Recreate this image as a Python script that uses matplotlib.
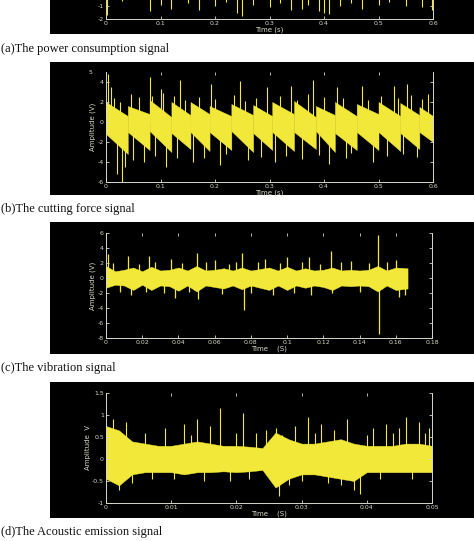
import matplotlib.pyplot as plt
import numpy as np

W, H = 474, 541
YEL = '#f2e83a'
AX = '#d8d8c8'

# (a) power consumption: spikes hanging down from the dense band above the view
a_spike_t = [0.002, 0.03, 0.08, 0.1, 0.12, 0.15, 0.17, 0.2, 0.22, 0.24, 0.25, 0.27, 0.3,
             0.32, 0.34, 0.36, 0.37, 0.39, 0.4, 0.41, 0.43, 0.45, 0.47, 0.5, 0.52, 0.55, 0.58, 0.598]
a_spike_v = [-1.7, -0.6, -1.4, -0.9, -1.2, -0.8, -1.3, -1.0, -0.7, -1.5, -1.8, -0.9, -1.1,
             -0.8, -1.3, -1.2, -0.9, -1.4, -1.5, -1.6, -1.0, -0.8, -1.2, -0.9, -0.7, -1.0, -1.1, -1.3]

# (b) cutting force: sawtooth cycles (start time, upper start/end, lower start/end)
b_cyc_t = [0.0, 0.04, 0.08, 0.12, 0.155, 0.19, 0.23, 0.27, 0.305, 0.345, 0.385, 0.42,
           0.46, 0.50, 0.54, 0.575, 0.6]
b_up0 = [2.0, 1.6, 2.2, 2.0, 2.0, 1.6, 1.8, 1.7, 2.0, 2.1, 1.6, 2.0, 1.8, 2.0, 1.9, 1.5]
b_up1 = [0.6, 0.8, 0.5, 0.7, 0.8, 0.6, 0.7, 0.6, 0.8, 0.5, 0.7, 0.6, 0.8, 0.6, 0.7, 0.6]
b_lo0 = [-1.2, -1.0, -0.9, -1.1, -1.0, -1.0, -0.9, -1.1, -1.0, -1.0, -0.9, -1.1, -1.0, -1.0, -1.1, -1.0]
b_lo1 = [-3.2, -2.8, -3.0, -2.7, -2.9, -2.8, -3.0, -2.8, -2.9, -2.7, -3.0, -2.8, -2.8, -2.9, -2.7, -2.0]
b_spike_t = [0.004, 0.01, 0.015, 0.02, 0.025, 0.03, 0.035, 0.045, 0.05, 0.06, 0.07, 0.08,
             0.085, 0.09, 0.1, 0.105, 0.11, 0.125, 0.13, 0.136, 0.145, 0.16, 0.17, 0.18,
             0.192, 0.2, 0.21, 0.22, 0.235, 0.245, 0.255, 0.26, 0.275, 0.285, 0.295, 0.31,
             0.32, 0.33, 0.34, 0.35, 0.36, 0.37, 0.38, 0.39, 0.4, 0.41, 0.424, 0.435, 0.44,
             0.45, 0.47, 0.48, 0.49, 0.505, 0.515, 0.528, 0.535, 0.545, 0.553, 0.56, 0.57,
             0.58, 0.59]
b_spike_v = [4.8, 3.5, 2.4, -5.2, 2.0, -6.0, -4.5, 2.8, -3.8, 2.5, -4.0, 4.5, 2.6, -3.4,
             3.3, 2.9, -4.5, 2.6, -3.6, 4.2, 2.2, -4.0, 2.5, -3.6, 3.8, 2.3, -4.3, -3.2,
             2.7, 4.1, 2.1, -3.8, 2.4, -3.5, 3.5, -4.0, 2.6, -3.4, 3.6, 2.2, -3.7, 2.8,
             4.2, -3.3, 2.5, -4.2, 3.5, 2.4, -3.6, -3.1, 3.6, 2.2, -4.0, 2.6, -3.4, 3.6,
             2.4, -3.2, 3.8, 2.7, -3.5, 2.3, 2.8]

# (c) vibration: envelope every 0.005 s up to 0.165
c_t = [0.0, 0.005, 0.01, 0.015, 0.02, 0.025, 0.03, 0.035, 0.04, 0.045, 0.05, 0.055, 0.06,
       0.065, 0.07, 0.075, 0.08, 0.085, 0.09, 0.095, 0.1, 0.105, 0.11, 0.115, 0.12, 0.125,
       0.13, 0.135, 0.14, 0.145, 0.15, 0.155, 0.16, 0.1665]
c_up = [1.6, 0.9, 1.1, 1.4, 0.9, 1.5, 1.0, 1.1, 1.4, 1.0, 1.6, 1.0, 1.1, 1.3, 1.0, 1.4,
        1.0, 1.2, 1.4, 1.0, 1.5, 1.0, 1.3, 1.0, 1.1, 1.4, 1.0, 1.1, 1.0, 1.1, 1.6, 1.0, 1.4, 1.3]
c_lo = [-1.3, -0.9, -1.0, -1.6, -0.9, -1.6, -1.0, -1.1, -1.7, -1.0, -1.8, -1.0, -1.2, -1.4,
        -1.0, -1.5, -1.0, -1.3, -1.6, -1.0, -1.6, -1.0, -1.3, -1.0, -1.2, -1.6, -1.0, -1.1,
        -1.0, -1.1, -1.8, -1.0, -1.6, -1.4]
c_spike_t = [0.001, 0.004, 0.008, 0.012, 0.014, 0.018, 0.022, 0.024, 0.027, 0.032, 0.036,
             0.038, 0.042, 0.046, 0.05, 0.051, 0.055, 0.06, 0.064, 0.068, 0.072, 0.075,
             0.076, 0.08, 0.084, 0.088, 0.092, 0.096, 0.1, 0.104, 0.108, 0.112, 0.113,
             0.118, 0.124, 0.125, 0.13, 0.135, 0.14, 0.145, 0.15, 0.1505, 0.155, 0.16,
             0.162, 0.165]
c_spike_v = [3.2, 2.0, -1.9, 2.9, -2.3, 1.9, -1.8, 3.0, 2.1, -2.0, 2.5, -2.6, 2.0, -1.9,
             3.3, -2.8, 2.2, 2.4, -2.1, 1.9, 2.1, 3.3, -4.3, -2.0, 2.2, 2.6, -2.3, 2.0, 2.8,
             -2.0, 2.2, 2.8, -2.2, 1.9, 3.6, -2.0, 2.1, 2.3, -1.9, 2.0, 5.8, -7.5, 2.2, 2.4,
             -2.5, -2.2]

# (d) acoustic emission: envelope every 0.002 s
d_t = [0.0, 0.002, 0.004, 0.006, 0.008, 0.01, 0.012, 0.014, 0.016, 0.018, 0.02, 0.022,
       0.024, 0.026, 0.028, 0.03, 0.032, 0.034, 0.036, 0.038, 0.04, 0.042, 0.044, 0.046,
       0.048, 0.05]
d_up = [0.75, 0.65, 0.4, 0.35, 0.3, 0.3, 0.35, 0.4, 0.35, 0.3, 0.3, 0.28, 0.25, 0.6, 0.45,
        0.35, 0.35, 0.4, 0.45, 0.35, 0.3, 0.3, 0.3, 0.35, 0.35, 0.3]
d_lo = [-0.45, -0.6, -0.35, -0.3, -0.3, -0.3, -0.35, -0.3, -0.3, -0.28, -0.3, -0.28, -0.25,
        -0.65, -0.45, -0.35, -0.35, -0.4, -0.45, -0.5, -0.3, -0.3, -0.3, -0.3, -0.3, -0.3]
d_spike_t = [0.001, 0.002, 0.003, 0.004, 0.006, 0.007, 0.009, 0.0105, 0.012, 0.013, 0.014,
             0.015, 0.016, 0.0175, 0.019, 0.02, 0.021, 0.022, 0.023, 0.0245, 0.026, 0.0265,
             0.027, 0.028, 0.029, 0.03, 0.031, 0.032, 0.033, 0.034, 0.035, 0.036, 0.037,
             0.038, 0.039, 0.04, 0.041, 0.042, 0.043, 0.044, 0.045, 0.046, 0.047, 0.048,
             0.049, 0.0495]
d_spike_v = [0.9, -0.7, 0.85, -0.55, 0.6, -0.45, 0.7, -0.45, 0.8, 0.55, 0.9, -0.5, 0.75,
             1.15, -0.5, 0.6, 1.05, -0.45, 0.6, 0.65, 0.7, -0.85, 0.55, -0.6, 0.75, -0.5,
             0.95, 0.6, 0.8, -0.55, 0.65, -0.6, 0.9, -0.7, -0.8, 0.55, 0.7, -0.45, 0.8,
             0.6, 0.7, 0.95, -0.45, 0.85, 0.6, 0.7]

captions = ['(a)The power consumption signal', '(b)The cutting force signal',
            '(c)The vibration signal', '(d)The Acoustic emission signal']

fig = plt.figure(figsize=(W / 100, H / 100), dpi=100)


def px_axes(x0, y0, x1, y1, **kw):
    return fig.add_axes([x0 / W, 1 - y1 / H, (x1 - x0) / W, (y1 - y0) / H], **kw)


def black_box(y0, y1):
    bg = px_axes(50, y0, 474, y1)
    bg.set_facecolor('black')
    bg.set_xticks([]); bg.set_yticks([])
    for s in bg.spines.values():
        s.set_visible(False)


def style(ax, xlim, ylim, xt, xtl, yt, ytl, xlabel, ylabel):
    ax.set_facecolor('black')
    ax.set_xlim(xlim); ax.set_ylim(ylim)
    ax.set_xticks(xt); ax.set_xticklabels(xtl)
    ax.set_yticks(yt); ax.set_yticklabels(ytl)
    for s in ax.spines.values():
        s.set_color(AX); s.set_linewidth(0.7)
    ax.spines['top'].set_visible(False)
    ax.tick_params(colors=AX, labelsize=4.5, length=2, width=0.6, pad=1.5,
                   direction='in', top=True, right=True)
    ax.set_xlabel(xlabel, color=AX, fontsize=5, labelpad=0)
    ax.set_ylabel(ylabel, color=AX, fontsize=5, labelpad=1)


# panel a (only its lower part is in view)
black_box(0, 34)
ax = px_axes(106, -20, 433, 19)
ax.vlines(a_spike_t, a_spike_v, 1.0, color=YEL, lw=0.8)
style(ax, (0, 0.6), (-2, 1.0), np.arange(0, 0.61, 0.1),
      ['0', '0.1', '0.2', '0.3', '0.4', '0.5', '0.6'], [-2, -1], ['-2', '-1'], 'Time (s)', '')

# panel b
black_box(62, 195)
ax = px_axes(106, 72, 433, 182)
for i in range(len(b_cyc_t) - 1):
    ax.fill_between([b_cyc_t[i], b_cyc_t[i + 1]], [b_lo0[i], b_lo1[i]], [b_up0[i], b_up1[i]],
                    color=YEL, lw=0.3)
ax.vlines(b_spike_t, 0, b_spike_v, color=YEL, lw=0.8)
style(ax, (0, 0.6), (-6, 5), np.arange(0, 0.61, 0.1),
      ['0', '0.1', '0.2', '0.3', '0.4', '0.5', '0.6'], [-6, -4, -2, 0, 2, 4],
      ['-6', '-4', '-2', '0', '2', '4'], 'Time (s)', 'Amplitude (V)')
ax.text(-0.028, 5, '5', color=AX, fontsize=4.5, ha='center', va='center')

# panel c
black_box(222, 354)
ax = px_axes(106, 233, 432, 338)
ax.fill_between(c_t, c_lo, c_up, color=YEL, lw=0.3)
ax.vlines(c_spike_t, 0, c_spike_v, color=YEL, lw=0.9)
style(ax, (0, 0.18), (-8, 6), np.arange(0, 0.181, 0.02),
      ['0', '0.02', '0.04', '0.06', '0.08', '0.1', '0.12', '0.14', '0.16', '0.18'],
      [-8, -6, -4, -2, 0, 2, 4, 6], ['-8', '-6', '-4', '-2', '0', '2', '4', '6'],
      'Time    (S)', 'Amplitude (V)')

# panel d
black_box(382, 518)
ax = px_axes(106, 393, 432, 503)
ax.fill_between(d_t, d_lo, d_up, color=YEL, lw=0.3)
ax.vlines(d_spike_t, 0, d_spike_v, color=YEL, lw=0.8)
style(ax, (0, 0.05), (-1, 1.5), np.arange(0, 0.051, 0.01),
      ['0', '0.01', '0.02', '0.03', '0.04', '0.05'], [-1, -0.5, 0, 0.5, 1, 1.5],
      ['-1', '-0.5', '0', '0.5', '1', '1.5'], 'Time    (S)', 'Amplitude  V')

for cap, y in zip(captions, [49, 209, 368, 532]):
    fig.text(1 / W, 1 - y / H, cap, fontsize=9, family='Liberation Serif',
             va='center', ha='left', color='#111111')

fig.savefig('out.png', dpi=100, facecolor='white')
